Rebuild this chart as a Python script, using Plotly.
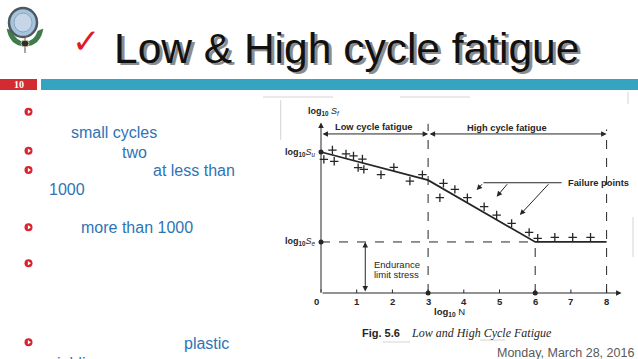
import plotly.graph_objects as go

# ---------------- data ----------------
failure_log_n = [0.08, 0.32, 0.37, 0.70, 0.91, 1.16, 1.04, 1.20, 1.68, 2.04, 2.49, 2.84,
                 3.33, 3.43, 3.75, 4.10, 4.57, 4.92, 5.34, 5.83, 6.07, 6.55, 7.05, 7.55]
failure_log_s = [0.948, 1.014, 0.934, 0.986, 0.972, 0.950, 0.889, 0.877, 0.839, 0.891, 0.794, 0.839,
                 0.676, 0.778, 0.735, 0.676, 0.612, 0.553, 0.494, 0.430, 0.388, 0.395, 0.395, 0.395]
sn_curve_log_n = [0, 3, 6, 8]
sn_curve_log_s = [1.0, 0.80, 0.362, 0.362]
x_tick_values = [0, 1, 2, 3, 4, 5, 6, 7, 8]
x_tick_labels = ["0", "1", "2", "3", "4", "5", "6", "7", "8"]
log_su = 1.0
log_se = 0.362
low_high_boundary = 3
endurance_log_n = 6
max_log_n = 8

title_text = "Low & High cycle fatigue"
bullet_rows_px = [111.7, 150.7, 170.0, 227.3, 263.3, 342.3]
bullet_words = [("small cycles", 69, 132.7), ("two", 120, 152.0), ("at less than", 151, 170.7),
                ("1000", 47, 189.3), ("more than 1000", 79, 227.7), ("plastic", 182, 343.0),
                ("yielding", 47, 363.5)]

# ---------------- geometry ----------------
W, H = 638, 359
X0, SX = 321.0, 35.7     # pixel of log N = 0, pixels per decade
Y0, SY = 293.0, 141.0    # pixel of stress 0, pixels per unit

def PX(p):
    return p / W

def PY(p):
    return 1 - p / H

def DX(p):  # pixel -> data x
    return (p - X0) / SX

def DY(p):  # pixel -> data y
    return (Y0 - p) / SY

INK = "#262626"
BLUE = "#2e74b5"
RED = "#d9232d"

fig = go.Figure()

# S-N curve
fig.add_trace(go.Scatter(x=sn_curve_log_n, y=sn_curve_log_s, mode="lines",
                         line=dict(color=INK, width=1.8), hoverinfo="skip"))
# failure points
fig.add_trace(go.Scatter(x=failure_log_n, y=failure_log_s, mode="markers",
                         marker=dict(symbol="cross-thin", size=6, line=dict(color=INK, width=1.3)),
                         hoverinfo="skip"))
# dots on axes
fig.add_trace(go.Scatter(x=[0, 0, low_high_boundary, endurance_log_n], y=[log_su, log_se, 0, 0],
                         mode="markers", marker=dict(color=INK, size=5), hoverinfo="skip"))
# small tick marks on the x axis
tx, ty = [], []
for v in x_tick_values:
    tx += [v, v, None]
    ty += [0, 0.025, None]
fig.add_trace(go.Scatter(x=tx, y=ty, mode="lines", line=dict(color=INK, width=1), hoverinfo="skip"))

# bullet symbols (red disc with white arrow)
bx = [DX(28.5)] * len(bullet_rows_px)
by = [DY(p) for p in bullet_rows_px]
fig.add_trace(go.Scatter(x=bx, y=by, mode="markers", marker=dict(symbol="circle", size=8, color=RED),
                         hoverinfo="skip"))
fig.add_trace(go.Scatter(x=[v + 0.01 for v in bx], y=by, mode="markers",
                         marker=dict(symbol="triangle-right", size=4, color="white"), hoverinfo="skip"))

shapes = []
# dashed guide lines
for xv, ytop in [(low_high_boundary, 1.2), (max_log_n, 1.16), (endurance_log_n, log_se)]:
    shapes.append(dict(type="line", xref="x", yref="y", x0=xv, x1=xv, y0=0, y1=ytop,
                       line=dict(color=INK, width=1, dash="dash")))
shapes.append(dict(type="line", xref="x", yref="y", x0=0, x1=endurance_log_n, y0=log_se, y1=log_se,
                   line=dict(color=INK, width=1, dash="dash")))
# failure points leader line
shapes.append(dict(type="line", xref="x", yref="y", x0=4.55, x1=6.74, y0=0.782, y1=0.782,
                   line=dict(color=INK, width=1)))

# faint scan borders
faint = [(280.7, 100, 280.7, 140), (633, 217, 633, 257), (628, 92, 628, 104),
         (263, 97, 333, 97), (400, 97, 470, 97), (383, 342, 410, 342), (480, 340, 505, 340)]
for a, b, c, d in faint:
    shapes.append(dict(type="line", xref="paper", yref="paper", x0=PX(a), x1=PX(c), y0=PY(b), y1=PY(d),
                       line=dict(color="#d4d4d4", width=1)))

# slide decorations
shapes.append(dict(type="rect", xref="paper", yref="paper", x0=PX(0), x1=PX(37), y0=PY(90), y1=PY(79),
                   fillcolor="#d42a32", line=dict(width=0)))
shapes.append(dict(type="rect", xref="paper", yref="paper", x0=PX(41), x1=PX(638), y0=PY(90), y1=PY(79),
                   fillcolor="#35a3c2", line=dict(width=0)))
# logo
shapes.append(dict(type="path", xref="paper", yref="paper",
                   path=f"M {PX(7)},{PY(29)} Q {PX(10)},{PY(46)} {PX(25)},{PY(46)} Q {PX(40)},{PY(46)} {PX(43)},{PY(29)}"
                        f" L {PX(38)},{PY(31)} Q {PX(34)},{PY(42)} {PX(25)},{PY(42)} Q {PX(16)},{PY(42)} {PX(12)},{PY(31)} Z",
                   fillcolor="#3f7d4a", line=dict(color="#2f5f38", width=0.5)))
shapes.append(dict(type="circle", xref="paper", yref="paper", x0=PX(9), x1=PX(37), y0=PY(37), y1=PY(8),
                   fillcolor="#a8c3dc", line=dict(color="#4a5a60", width=2.5)))
shapes.append(dict(type="circle", xref="paper", yref="paper", x0=PX(14), x1=PX(32), y0=PY(32), y1=PY(13),
                   fillcolor="#c4d6e8", line=dict(color="#8aa6c0", width=1)))
shapes.append(dict(type="line", xref="paper", yref="paper", x0=PX(25), x1=PX(25), y0=PY(38), y1=PY(53),
                   line=dict(color="#8a8a7a", width=1.5)))
shapes.append(dict(type="circle", xref="paper", yref="paper", x0=PX(21), x1=PX(29), y0=PY(47), y1=PY(40),
                   fillcolor="#2e2e2e", line=dict(color="#c9c3a0", width=1)))

ann = []
def A(text, x, y, size, color=INK, family="Liberation Sans", xanchor="center", xref="x", yref="y", **kw):
    ann.append(dict(text=text, x=x, y=y, xref=xref, yref=yref, showarrow=False, xanchor=xanchor,
                    yanchor="middle", font=dict(size=size, color=color, family=family), **kw))

def arrow(x_head, y_head, x_tail, y_tail, both=False):
    ann.append(dict(text="", x=x_head, y=y_head, ax=x_tail, ay=y_tail, xref="x", yref="y",
                    axref="x", ayref="y", showarrow=True, arrowhead=2, arrowsize=1.1, arrowwidth=1,
                    arrowcolor=INK, arrowside="end+start" if both else "end", standoff=0, startstandoff=0))

# axes with arrows
arrow(8.42, 0, 0, 0)
arrow(0, 1.21, 0, 0)
# region arrows
arrow(low_high_boundary, 1.128, 0, 1.128, both=True)
arrow(max_log_n, 1.128, low_high_boundary, 1.128, both=True)
# endurance arrow
arrow(1.24, log_se, 1.24, 0, both=True)
# failure point arrows
arrow(4.36, 0.730, 4.55, 0.782)
arrow(4.92, 0.683, 5.25, 0.782)
arrow(5.57, 0.553, 6.41, 0.782)

# chart text
A("<b>Low cycle fatigue</b>", 1.48, 1.175, 9.3)
A("<b>High cycle fatigue</b>", 5.22, 1.168, 9.3)
A("<b>Failure points</b>", 7.78, 0.778, 9.3)
A("Endurance", 1.42, 0.199, 9.5, xanchor="left")
A("limit stress", 1.42, 0.128, 9.5, xanchor="left")
for v, lab in zip(x_tick_values, x_tick_labels):
    A(f"<b>{lab}</b>", v - (0.12 if v == 0 else 0), -0.058, 9.5)
A("<b>log<sub>10</sub></b> N", 3.6, -0.135, 9.5)
A("<b>log<sub>10</sub></b> <i>S<sub>f</sub></i>", DX(306), 1.29, 9, xanchor="left")
A("<b>log<sub>10</sub></b><i>S<sub>u</sub></i>", -0.08, log_su, 9, xanchor="right")
A("<b>log<sub>10</sub></b><i>S<sub>e</sub></i>", -0.08, log_se + 0.005, 9, xanchor="right")

# caption
A("<b>Fig. 5.6</b>", PX(381), PY(333), 11, xref="paper", yref="paper")
A("<i>Low and High Cycle Fatigue</i>", PX(482), PY(333), 12, family="Liberation Serif",
  xref="paper", yref="paper")
# date
A("Monday, March 28, 2016", PX(636), PY(352.5), 12.5, color="#595959", xanchor="right",
  xref="paper", yref="paper")

# title
A(title_text, PX(114.5), PY(50.5), 42.5, color="#8c8c8c", xanchor="left", xref="paper", yref="paper")
A(title_text, PX(112), PY(48.5), 42.5, color="#111111", xanchor="left", xref="paper", yref="paper")
A("<b>✓</b>", PX(86), PY(41), 34, color="#e01b24", family="DejaVu Sans", xref="paper", yref="paper")
A("<b>10</b>", PX(19), PY(85), 10, color="#ffffff", family="Liberation Serif", xref="paper", yref="paper")

for word, xl, yl in bullet_words:
    A(word, PX(xl), PY(yl), 16, color=BLUE, xanchor="left", xref="paper", yref="paper")

fig.update_layout(
    width=W, height=H, margin=dict(l=0, r=0, t=0, b=0),
    paper_bgcolor="white", plot_bgcolor="white", showlegend=False, hovermode=False,
    xaxis=dict(range=[DX(0), DX(W)], visible=False, fixedrange=True),
    yaxis=dict(range=[DY(H), DY(0)], visible=False, fixedrange=True),
    shapes=shapes, annotations=ann,
)
fig.write_html("out.html", config={"displayModeBar": False},
               post_script="document.body.style.margin='0px';")
